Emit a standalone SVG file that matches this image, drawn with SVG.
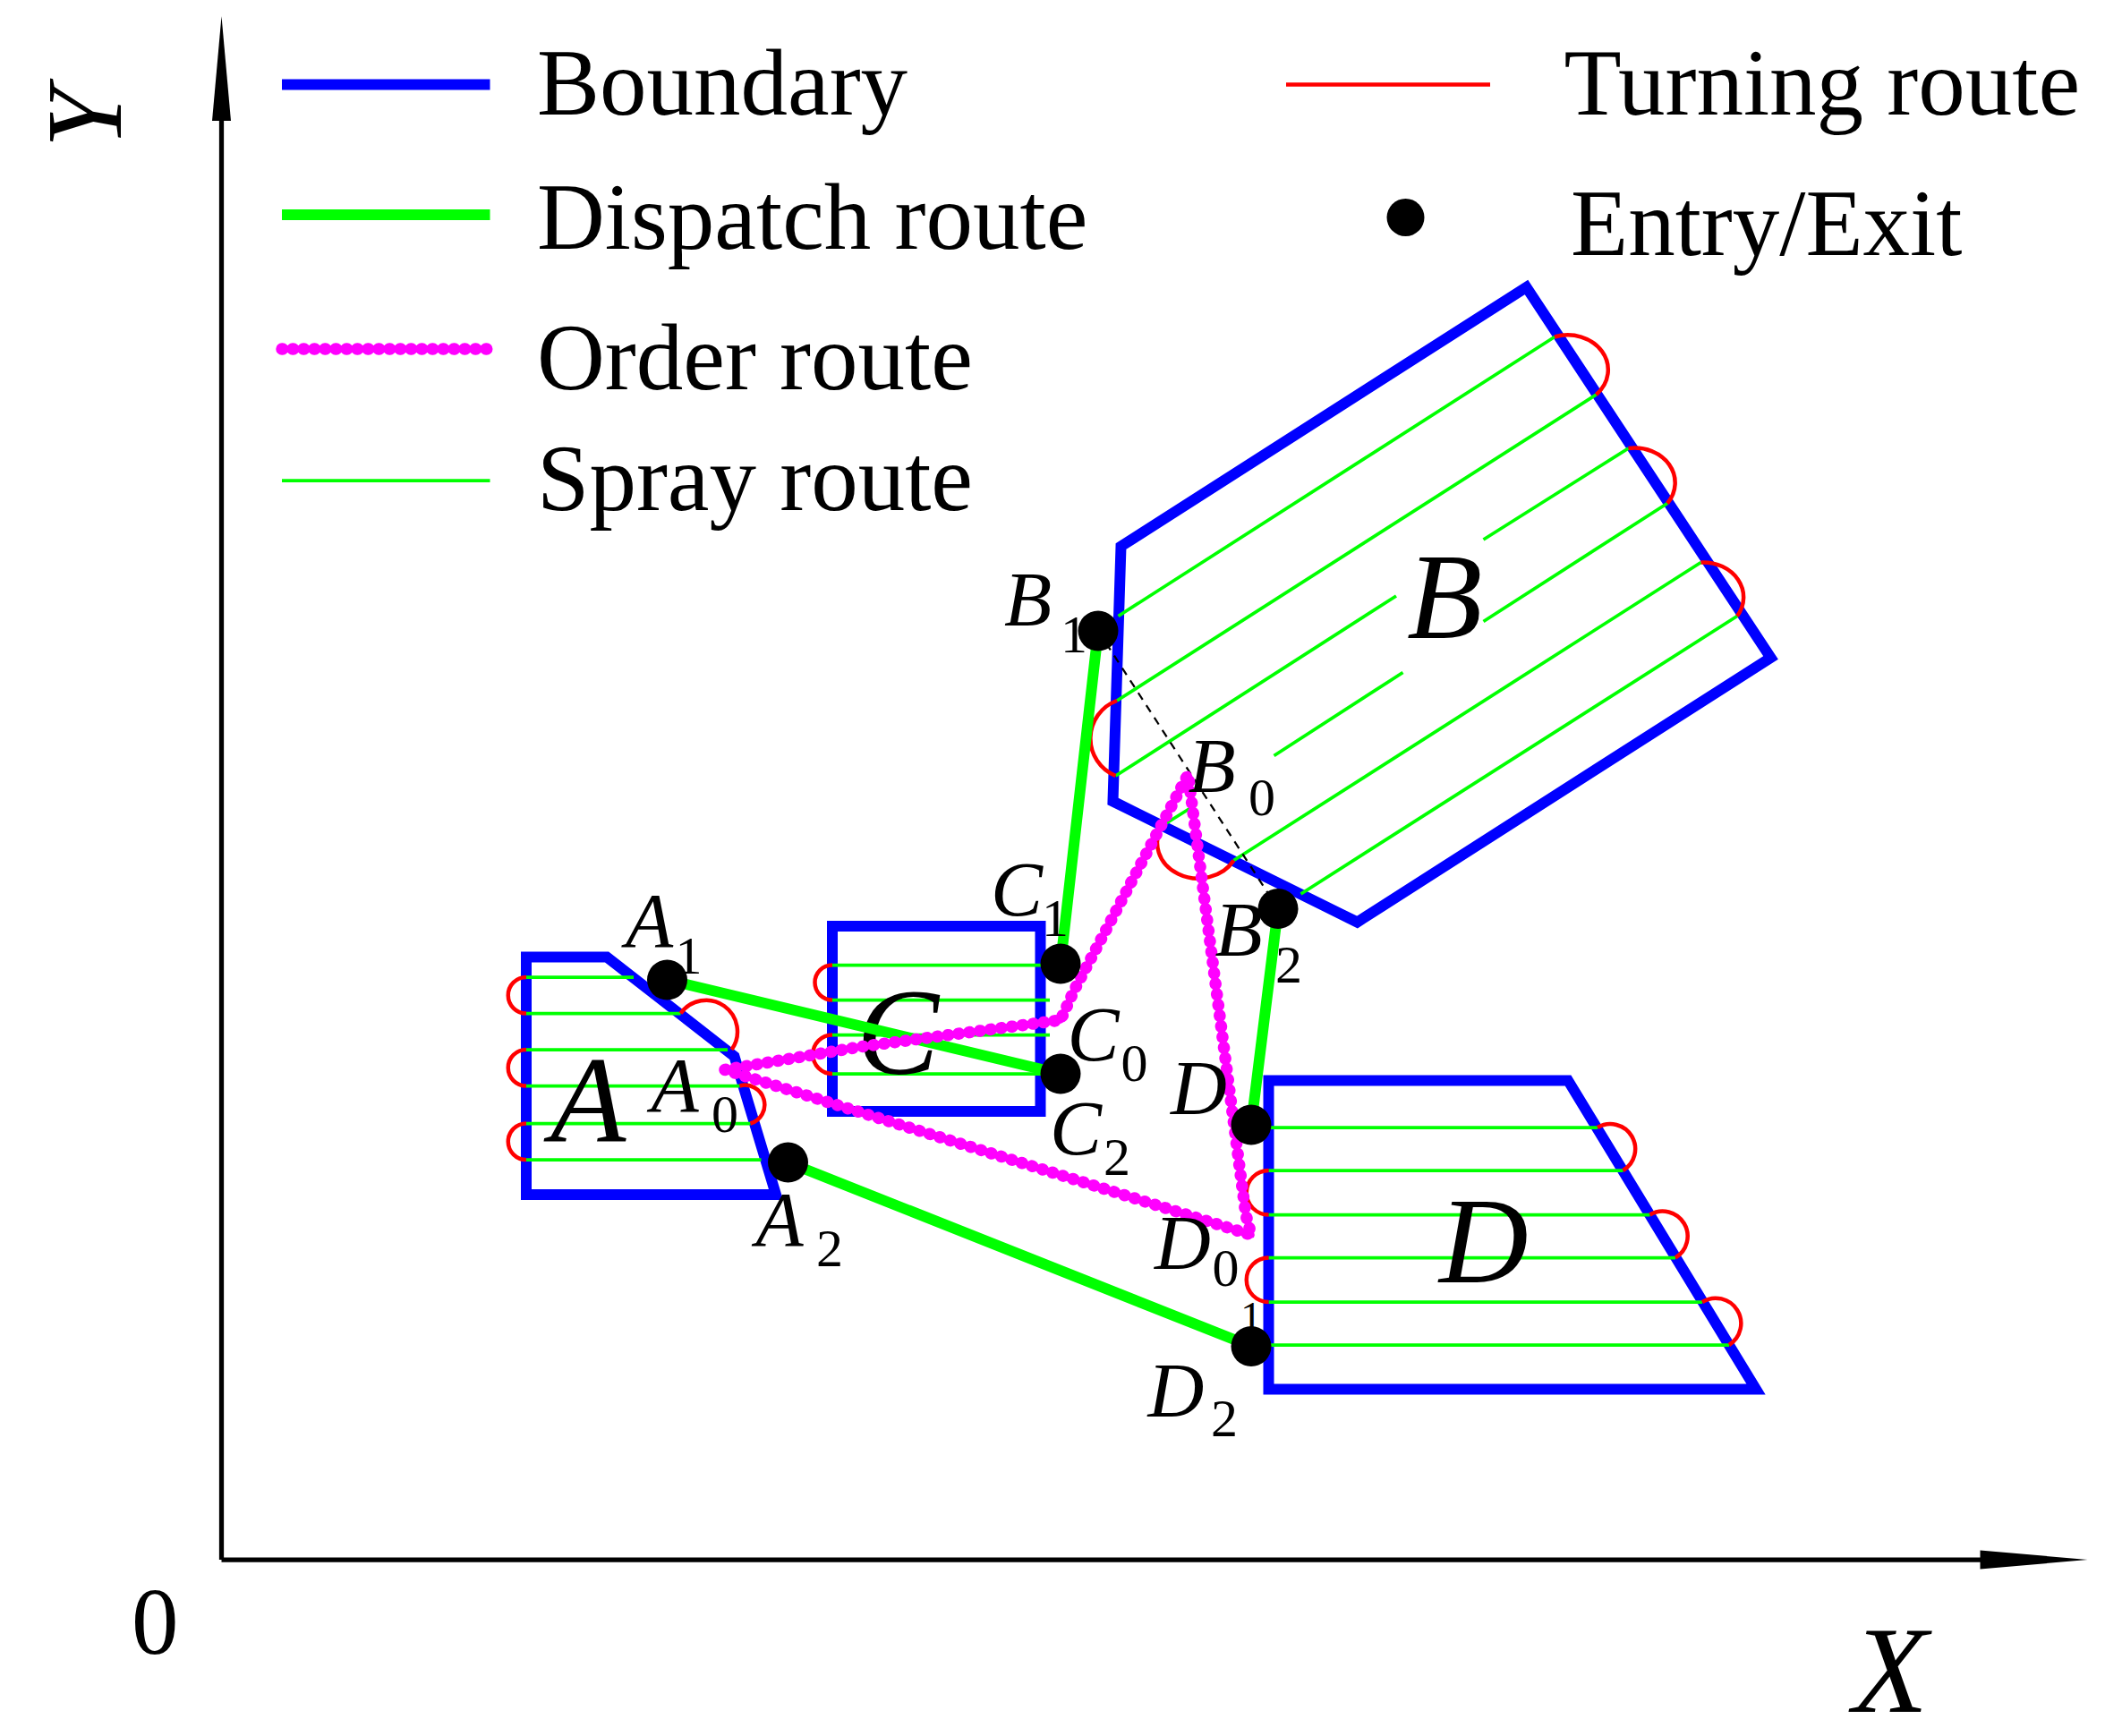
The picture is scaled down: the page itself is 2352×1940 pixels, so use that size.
<svg xmlns="http://www.w3.org/2000/svg" width="2352" height="1940" viewBox="0 0 2352 1940">
<style>
.bd{fill:none;stroke:#0000ff;stroke-width:8;stroke-linejoin:miter}
.sp{fill:none;stroke:#00ff00;stroke-width:2.5}
.tr{fill:none;stroke:#ff0000;stroke-width:3}
.ds{fill:none;stroke:#00ff00;stroke-width:8}
.od{fill:none;stroke:#ff00ff;stroke-width:9;stroke-dasharray:0.5 7.5;stroke-linecap:round;stroke-linejoin:round}
.odb{fill:none;stroke:#ff00ff;stroke-width:5;stroke-linejoin:round}
.pt{fill:#000}
.lg{font-family:"Liberation Serif",serif;font-size:70px;fill:#000}
.lb{font-family:"Liberation Serif",serif;font-style:italic;font-size:58px;fill:#000}
.sb{font-family:"Liberation Serif",serif;font-size:40px;fill:#000}
.big{font-family:"Liberation Serif",serif;font-style:italic;font-size:92px;fill:#000}
</style>
<rect width="2352" height="1940" fill="#fff"/>
<g transform="scale(1.5)">
<g id="axes">
<line x1="165" y1="1162" x2="165" y2="60" stroke="#000" stroke-width="3.5"/>
<polygon points="165,12 158,90 172,90" fill="#000"/>
<line x1="165" y1="1162" x2="1500" y2="1162" stroke="#000" stroke-width="3.5"/>
<polygon points="1555,1162 1475,1155 1475,1169" fill="#000"/>
<text class="big" x="0" y="0" transform="translate(90,110) rotate(-90)" style="font-size:80px">Y</text>
<text class="lg" x="98" y="1232">0</text>
<text class="big" x="1380" y="1275">X</text>
</g>
<g id="legend">
<line x1="210" y1="63" x2="365" y2="63" stroke="#0000ff" stroke-width="8"/>
<text class="lg" x="400" y="85">Boundary</text>
<line x1="210" y1="160" x2="365" y2="160" stroke="#00ff00" stroke-width="8"/>
<text class="lg" x="400" y="185">Dispatch route</text>
<line x1="210" y1="260" x2="365" y2="260" class="odb"/>
<line x1="210" y1="260" x2="365" y2="260" class="od"/>
<text class="lg" x="400" y="290">Order route</text>
<line x1="210" y1="358" x2="365" y2="358" stroke="#00ff00" stroke-width="2.5"/>
<text class="lg" x="400" y="380">Spray route</text>
<line x1="958" y1="63" x2="1110" y2="63" stroke="#ff0000" stroke-width="3"/>
<text class="lg" x="1165" y="85">Turning route</text>
<circle cx="1047" cy="162" r="14" class="pt"/>
<text class="lg" x="1170" y="190">Entry/Exit</text>
</g>
<g id="field-A">
<polygon class="bd" points="392,713 452,713 547,787 578,890 392,890"/>
<path class="sp" d="M392,728H472M392,755H507M392,782H542M392,809H551M392,837H559M392,864H567"/>
<path class="tr" d="M392,728A13.5,13.5 0 0 0 392,755M392,782A13.5,13.5 0 0 0 392,809M392,837A13.5,13.5 0 0 0 392,864M507,755A13.5,13.5 0 0 1 545,782M551,809A14,14 0 0 1 559,837"/>
<text class="big" x="410" y="850">A</text>
</g>
<g id="field-C">
<polygon class="bd" points="620,690 775,690 775,828 620,828"/>
<path class="sp" d="M620,719H782M620,745H782M620,771H782M620,800H782"/>
<path class="tr" d="M620,719A13,13 0 0 0 620,745M620,771A14.5,14.5 0 0 0 620,800"/>
<text class="big" x="638" y="800">C</text>
</g>
<g id="field-B">
<polygon class="bd" points="835,407 1137,214 1319,490 1011,687 829,597"/>
<path class="sp" d="M833,459L1158,251M832,522L1189,294M831,578L1040,444M1105,402L1213,334M866,615L890,600M949,563L1045,501M1105,463L1242,375M919,641L1267,419M969,666L1294,459"/>
<path class="tr" d="M1158,251A30,26 0 0 1 1189,294M1213,334A30,26 0 0 1 1242,375M1267,419A30,26 0 0 1 1294,459M832,522A30,30 0 0 0 831,578M866,615A30,26 0 0 0 919,641"/>
<text class="big" x="1048" y="475">B</text>
</g>
<g id="field-D">
<polygon class="bd" points="945,805 1168,805 1308,1035 945,1035"/>
<path class="sp" d="M945,840H1190M945,872H1209M945,905H1229M945,937H1248M945,970H1268M945,1002H1288"/>
<path class="tr" d="M1190,840A16,16 0 0 1 1209,872M1229,905A16,16 0 0 1 1248,937M1268,970A16,16 0 0 1 1288,1002M945,872A16.5,16.5 0 0 0 945,905M945,937A16.5,16.5 0 0 0 945,970"/>
<text class="big" x="1072" y="955">D</text>
</g>
<g id="connectors">
<line x1="818" y1="470" x2="952" y2="677" stroke="#000" stroke-width="1.5" stroke-dasharray="6 5"/>
<path class="ds" d="M497,730L790,800M587,866L932,1003M790,718L818,470M932,838L952,677"/>
<path class="odb" d="M540,797L640,780L790,760L800,738L885,577L928,905L932,920L540,797"/>
<path class="od" d="M540,797L640,780L790,760L800,738L885,577L928,905L932,920L540,797"/>
</g>
<g id="A1"><circle cx="497" cy="730" r="15" class="pt"/><text class="lb" x="466" y="705">A</text><text class="sb" x="503" y="725">1</text></g>
<g id="A2"><circle cx="587" cy="866" r="15" class="pt"/><text class="lb" x="563" y="928">A</text><text class="sb" x="608" y="943">2</text></g>
<g id="A0"><text class="lb" x="485" y="828">A</text><text class="sb" x="530" y="843">0</text></g>
<g id="C1"><circle cx="790" cy="718" r="15" class="pt"/><text class="lb" x="738" y="682">C</text><text class="sb" x="776" y="697">1</text></g>
<g id="C2"><circle cx="790" cy="800" r="15" class="pt"/><text class="lb" x="782" y="860">C</text><text class="sb" x="822" y="875">2</text></g>
<g id="C0"><text class="lb" x="795" y="790">C</text><text class="sb" x="835" y="805">0</text></g>
<g id="B1"><circle cx="818" cy="470" r="15" class="pt"/><text class="lb" x="748" y="466">B</text><text class="sb" x="790" y="486">1</text></g>
<g id="B0"><text class="lb" x="885" y="590">B</text><text class="sb" x="930" y="607">0</text></g>
<g id="B2"><circle cx="952" cy="677" r="15" class="pt"/><text class="lb" x="905" y="712">B</text><text class="sb" x="950" y="732">2</text></g>
<g id="D1"><circle cx="932" cy="838" r="15" class="pt"/><text class="lb" x="872" y="830">D</text><text class="sb" x="924" y="992" style="font-size:32px">1</text></g>
<g id="D0"><text class="lb" x="860" y="945">D</text><text class="sb" x="903" y="958">0</text></g>
<g id="D2"><circle cx="932" cy="1003" r="15" class="pt"/><text class="lb" x="855" y="1055">D</text><text class="sb" x="902" y="1070">2</text></g>
</g>
</svg>
